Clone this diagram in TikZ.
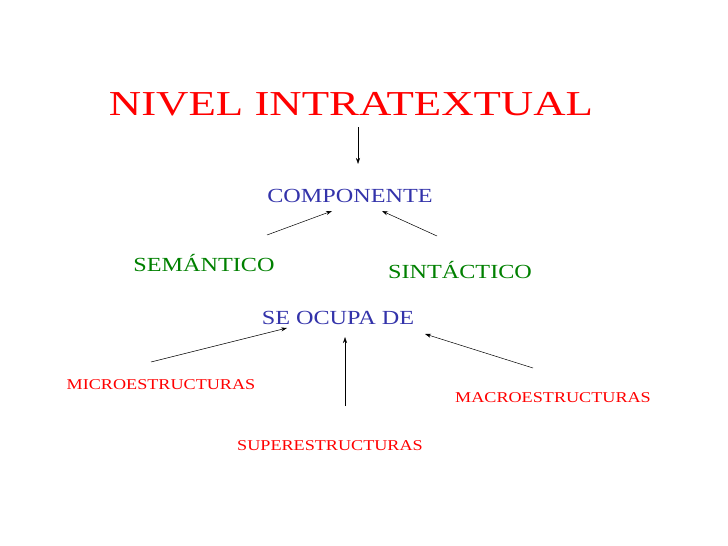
\documentclass[tikz,border=0pt]{standalone}
\usepackage{fontspec}
\setmainfont{Liberation Serif}
\usetikzlibrary{arrows.meta}
\definecolor{tblue}{RGB}{51,51,170}
\definecolor{tgreen}{RGB}{0,128,0}
\begin{document}
\begin{tikzpicture}[x=1pt,y=-1pt,
  arr/.style={-{Stealth[length=6pt,width=4pt]},line width=0.5pt},
  t/.style={inner sep=0pt,anchor=center,xscale=1.21}]
\useasboundingbox (0,0) rectangle (728,546);
\node[t,xscale=1.058,red,font=\fontsize{35}{40}\selectfont] (title) at (351,104) {NIVEL INTRATEXTUAL};
\node[t,tblue,font=\fontsize{20}{24}\selectfont] (comp) at (350,196) {COMPONENTE};
\node[t,tgreen,font=\fontsize{20}{24}\selectfont] (sem) at (204,263) {SEMÁNTICO};
\node[t,tgreen,font=\fontsize{20}{24}\selectfont] (sin) at (460,270) {SINTÁCTICO};
\node[t,tblue,font=\fontsize{20}{24}\selectfont] (ocupa) at (338,318) {SE OCUPA DE};
\node[t,red,font=\fontsize{15}{18}\selectfont] (micro) at (161,385) {MICROESTRUCTURAS};
\node[t,red,font=\fontsize{15}{18}\selectfont] (macro) at (553,398) {MACROESTRUCTURAS};
\node[t,red,font=\fontsize{15}{18}\selectfont] (super) at (330,446) {SUPERESTRUCTURAS};
\coordinate (a1) at (358,127); \coordinate (a2) at (358,164);
\coordinate (b1) at (267,235); \coordinate (b2) at (332,211);
\coordinate (c1) at (437,236); \coordinate (c2) at (382,211);
\coordinate (d1) at (151,362); \coordinate (d2) at (287,328);
\coordinate (e1) at (345,406); \coordinate (e2) at (345,337);
\coordinate (f1) at (533,368); \coordinate (f2) at (425,334);
\draw[arr] (a1) -- (a2);
\draw[arr] (b1) -- (b2);
\draw[arr] (c1) -- (c2);
\draw[arr] (d1) -- (d2);
\draw[arr] (e1) -- (e2);
\draw[arr] (f1) -- (f2);
\end{tikzpicture}
\end{document}
